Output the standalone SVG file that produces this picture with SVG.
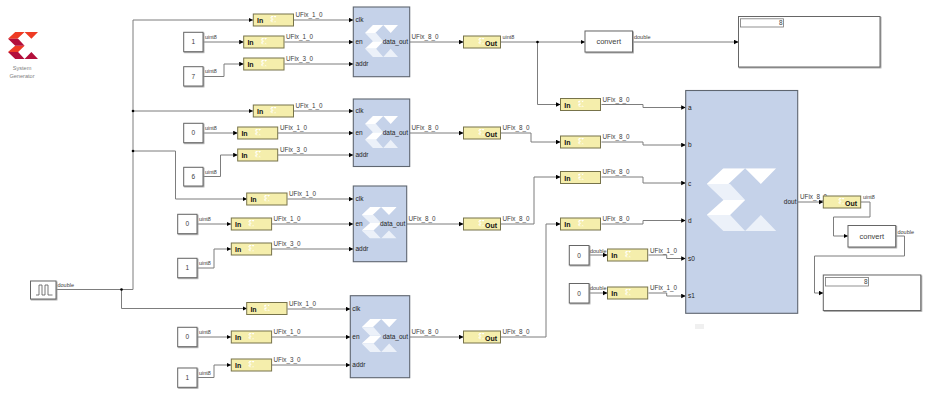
<svg xmlns="http://www.w3.org/2000/svg" width="940" height="413" viewBox="0 0 940 413">
<style>
text{font-family:"Liberation Sans",Arial,sans-serif;fill:#3c3c3c}
.l{font-size:6.3px}
.s{font-size:5.5px}
.p{font-size:6.5px;fill:#222}
.e{text-anchor:end}
.m{text-anchor:middle}
.c{font-size:6.5px;text-anchor:middle}
.t{font-size:7.5px;text-anchor:middle}
.b{font-size:7px;font-weight:bold;fill:#111}
.g{font-size:5.6px;text-anchor:middle;fill:#808080}
.sys{fill:#c5d2e9;stroke:#5f6670;stroke-width:1.1}
.y{fill:#f5eeac;stroke:#77734a;stroke-width:1}
.w{fill:#fff;stroke:#666;stroke-width:1;filter:url(#sh)}
.d{fill:#fff;stroke:#777;stroke-width:.8}
.wire{fill:none;stroke:#7d7d7d;stroke-width:1;marker-end:url(#arr)}
.plain{fill:none;stroke:#7d7d7d;stroke-width:1}
</style>
<defs>
<filter id="sh" x="-20%" y="-20%" width="140%" height="140%"><feDropShadow dx=".8" dy=".8" stdDeviation=".5" flood-color="#999"/></filter>
<marker id="arr" markerUnits="userSpaceOnUse" markerWidth="5" markerHeight="5" refX="4.5" refY="2.5" orient="auto"><path d="M0,.2L4.5,2.5L0,4.8Z" fill="#000"/></marker>
<symbol id="x" viewBox="0 0 208 188" preserveAspectRatio="none">
<path d="M50,0H115L65,47H0ZM50,95H115L70,140H0ZM115,0H208L162,47Z" fill="#fff"/>
<path d="M0,47H70L115,95H50ZM0,140H70L115,188H50ZM115,188L162,140L208,188Z" fill="#ecf1f9"/>
</symbol>
<symbol id="xs" viewBox="0 0 208 188" preserveAspectRatio="none">
<path d="M50,0H115L65,47H0ZM50,95H115L70,140H0ZM115,0H208L162,47Z" fill="#fff"/>
<path d="M0,47H70L115,95H50ZM0,140H70L115,188H50ZM115,188L162,140L208,188Z" fill="#fbf8dc"/>
</symbol>
<symbol id="xr" viewBox="0 0 208 188" preserveAspectRatio="none">
<path d="M50,0H115L65,47H0ZM50,95H115L70,140H0ZM115,0H208L162,47Z" fill="#ee3b24"/>
<path d="M0,47H70L115,95H50ZM0,140H70L115,188H50ZM115,188L162,140L208,188Z" fill="#b30f3b"/>
</symbol>
</defs>
<rect width="940" height="413" fill="#fff"/>

<g id="connectors">
<path class="plain" d="M56,289.5H133V20"/>
<path class="wire" d="M133,20H253"/>
<path class="wire" d="M133,111H253"/>
<path class="wire" d="M133,151H175.500V199H247"/>
<path class="wire" d="M121.500,289.500V308.500H247"/>
<path class="wire" d="M203,42H243.700"/>
<path class="wire" d="M203,76.500H224V64H243.700"/>
<path class="wire" d="M203,133H237.700"/>
<path class="wire" d="M203,176.500H220.500V155H237.700"/>
<path class="wire" d="M197,224H231"/>
<path class="wire" d="M197,268H214V249H231"/>
<path class="wire" d="M197,337H231"/>
<path class="wire" d="M197,377.500H214V365H231"/>
<path class="wire" d="M294,20H353.300"/>
<path class="wire" d="M284.500,42H353.300"/>
<path class="wire" d="M284.500,64H353.300"/>
<path class="wire" d="M294,111H353.300"/>
<path class="wire" d="M278,133H353.300"/>
<path class="wire" d="M278,155H353.300"/>
<path class="wire" d="M287.500,199H353.300"/>
<path class="wire" d="M272,224H353.300"/>
<path class="wire" d="M272,249H353.300"/>
<path class="wire" d="M287.500,309H350.300"/>
<path class="wire" d="M272,337H350.300"/>
<path class="wire" d="M272,365H350.300"/>
<path class="wire" d="M410,42H463.500"/>
<path class="wire" d="M410,133H463.500"/>
<path class="wire" d="M407,224H463.500"/>
<path class="wire" d="M410,337H463.500"/>
<path class="wire" d="M501,42H585"/>
<path class="wire" d="M537.500,42V104.500H560.500"/>
<path class="wire" d="M632.500,42H738.500"/>
<path class="wire" d="M500.500,133H531V142H560.500"/>
<path class="wire" d="M500.500,224H534V177H560.500"/>
<path class="wire" d="M500.500,337H546V224H560.500"/>
<path class="wire" d="M601.500,104.500H643V107.500H685.700"/>
<path class="wire" d="M601.500,142H643V145H685.700"/>
<path class="wire" d="M601.500,177H643V183H685.700"/>
<path class="wire" d="M601.500,224H643V220.500H685.700"/>
<path class="wire" d="M589,255H607.500"/>
<path class="wire" d="M589,293H607.500"/>
<path class="wire" d="M648.500,255H666.700V258.500H685.700"/>
<path class="wire" d="M648.500,293H666.700V296H685.700"/>
<path class="wire" d="M798,202H823.300"/>
<path class="wire" d="M861,202H870V217H833.500V236H848"/>
<path class="wire" d="M896,236H904.500V256H814.500V293H823.300"/>
<circle cx="133" cy="111" r="1.300" fill="#000"/>
<circle cx="133" cy="151" r="1.300" fill="#000"/>
<circle cx="121.500" cy="289.500" r="1.300" fill="#000"/>
<circle cx="537.500" cy="42" r="1.300" fill="#000"/>
</g>

<g id="logo">
<use href="#xr" x="8" y="32" width="30" height="27"/>
<text class="g" x="22" y="70">System</text>
<text class="g" x="22" y="77.500">Generator</text>
</g>

<g id="pulse"><rect class="w" x="30.500" y="281" width="25.500" height="18"/><path d="M36,295H39V285H42V295H45V285H48V295H52.500" fill="none" stroke="#555" stroke-width=".8"/><text class="s" x="57.500" y="287">double</text></g>

<g id="c1"><rect class="w" x="183.700" y="32.300" width="19.300" height="19.400"/><text class="c" x="193.400" y="44.300">1</text><text class="s" x="205" y="38.800">uint8</text></g>
<g id="c2"><rect class="w" x="183.700" y="66.700" width="19.300" height="19.300"/><text class="c" x="193.400" y="78.700">7</text><text class="s" x="205" y="73">uint8</text></g>
<g id="c3"><rect class="w" x="183.700" y="123.300" width="19.300" height="19.400"/><text class="c" x="193.400" y="135.300">0</text><text class="s" x="205" y="130">uint8</text></g>
<g id="c4"><rect class="w" x="183.700" y="167.300" width="19.300" height="18.700"/><text class="c" x="193.400" y="179">6</text><text class="s" x="205" y="174">uint8</text></g>
<g id="c5"><rect class="w" x="177.700" y="214.300" width="19.300" height="19.400"/><text class="c" x="187.400" y="226.300">0</text><text class="s" x="199" y="221">uint8</text></g>
<g id="c6"><rect class="w" x="177.700" y="258.300" width="19.300" height="19.400"/><text class="c" x="187.400" y="270.300">1</text><text class="s" x="199" y="265">uint8</text></g>
<g id="c7"><rect class="w" x="177.700" y="327.300" width="19.300" height="19.400"/><text class="c" x="187.400" y="339.300">0</text><text class="s" x="199" y="334">uint8</text></g>
<g id="c8"><rect class="w" x="177.700" y="368" width="19.300" height="19.300"/><text class="c" x="187.400" y="380">1</text><text class="s" x="199" y="375">uint8</text></g>
<g id="c9"><rect class="w" x="569.300" y="245.500" width="19.700" height="19.500"/><text class="c" x="579" y="257.500">0</text><text class="s" x="590" y="252.500">double</text></g>
<g id="c10"><rect class="w" x="569.300" y="283.500" width="19.700" height="19.500"/><text class="c" x="579" y="295.500">0</text><text class="s" x="590" y="290">double</text></g>

<g id="in1"><rect class="y" x="253.300" y="14" width="40.200" height="12"/><use href="#xs" x="270" y="16" width="6.500" height="6.500"/><text class="b" x="257" y="23">In</text><text class="l" x="295.500" y="17.300">UFix_1_0</text></g>
<g id="in2"><rect class="y" x="243.700" y="36" width="40.300" height="12"/><use href="#xs" x="260.500" y="38" width="6.500" height="6.500"/><text class="b" x="247.400" y="45">In</text><text class="l" x="286" y="39">UFix_1_0</text></g>
<g id="in3"><rect class="y" x="243.700" y="58" width="40.300" height="12"/><use href="#xs" x="260.500" y="60" width="6.500" height="6.500"/><text class="b" x="247.400" y="67">In</text><text class="l" x="286" y="61">UFix_3_0</text></g>
<g id="in4"><rect class="y" x="253.300" y="105" width="40.200" height="12"/><use href="#xs" x="270" y="107" width="6.500" height="6.500"/><text class="b" x="257" y="114">In</text><text class="l" x="295.500" y="108">UFix_1_0</text></g>
<g id="in5"><rect class="y" x="237.700" y="127" width="40" height="12"/><use href="#xs" x="254.500" y="129" width="6.500" height="6.500"/><text class="b" x="241.400" y="136">In</text><text class="l" x="280" y="130">UFix_1_0</text></g>
<g id="in6"><rect class="y" x="237.700" y="149" width="40" height="12"/><use href="#xs" x="254.500" y="151" width="6.500" height="6.500"/><text class="b" x="241.400" y="158">In</text><text class="l" x="280" y="152">UFix_3_0</text></g>
<g id="in7"><rect class="y" x="246.700" y="193" width="40.300" height="12"/><use href="#xs" x="263.500" y="195" width="6.500" height="6.500"/><text class="b" x="250.400" y="202">In</text><text class="l" x="289" y="196">UFix_1_0</text></g>
<g id="in8"><rect class="y" x="231.300" y="218" width="40.300" height="12"/><use href="#xs" x="248" y="220" width="6.500" height="6.500"/><text class="b" x="235" y="227">In</text><text class="l" x="273.500" y="221">UFix_1_0</text></g>
<g id="in9"><rect class="y" x="231.300" y="243" width="40.300" height="12"/><use href="#xs" x="248" y="245" width="6.500" height="6.500"/><text class="b" x="235" y="252">In</text><text class="l" x="273.500" y="246">UFix_3_0</text></g>
<g id="in10"><rect class="y" x="246.700" y="302.500" width="40.300" height="12"/><use href="#xs" x="263.500" y="304.500" width="6.500" height="6.500"/><text class="b" x="250.400" y="311.500">In</text><text class="l" x="289" y="306">UFix_1_0</text></g>
<g id="in11"><rect class="y" x="231.300" y="331" width="40.300" height="12"/><use href="#xs" x="248" y="333" width="6.500" height="6.500"/><text class="b" x="235" y="340">In</text><text class="l" x="273.500" y="334">UFix_1_0</text></g>
<g id="in12"><rect class="y" x="231.300" y="359" width="40.300" height="12"/><use href="#xs" x="248" y="361" width="6.500" height="6.500"/><text class="b" x="235" y="368">In</text><text class="l" x="273.500" y="362">UFix_3_0</text></g>

<g id="sys1"><rect class="sys" x="353.300" y="7" width="56.400" height="69.700"/><use href="#x" x="365" y="25" width="33" height="32"/><text class="p" x="355.500" y="22.300">clk</text><text class="p" x="355.500" y="44.300">en</text><text class="p" x="355.500" y="66.300">addr</text><text class="p e" x="408" y="44.300">data_out</text><text class="l" x="411.500" y="38.800">UFix_8_0</text></g>
<g id="sys2"><rect class="sys" x="353.300" y="99" width="56.400" height="67.500"/><use href="#x" x="365" y="116" width="33" height="32"/><text class="p" x="355.500" y="113.300">clk</text><text class="p" x="355.500" y="135.300">en</text><text class="p" x="355.500" y="157.300">addr</text><text class="p e" x="408" y="135.300">data_out</text><text class="l" x="411.500" y="130">UFix_8_0</text></g>
<g id="sys3"><rect class="sys" x="353.300" y="186" width="53.400" height="75.700"/><use href="#x" x="361.700" y="207" width="35" height="31.500"/><text class="p" x="355.500" y="201.300">clk</text><text class="p" x="355.500" y="226.300">en</text><text class="p" x="355.500" y="251.300">addr</text><text class="p e" x="405.300" y="226.300">data_out</text><text class="l" x="408.500" y="221">UFix_8_0</text></g>
<g id="sys4"><rect class="sys" x="350.300" y="295.700" width="59.400" height="82"/><use href="#x" x="361.700" y="319" width="35.300" height="33"/><text class="p" x="352.300" y="311.300">clk</text><text class="p" x="352.300" y="339.300">en</text><text class="p" x="352.300" y="367.300">addr</text><text class="p e" x="408" y="339.300">data_out</text><text class="l" x="411.500" y="334">UFix_8_0</text></g>

<g id="out1"><rect class="y" x="463.500" y="36" width="37" height="12"/><use href="#xs" x="478" y="38" width="6.500" height="6.500"/><text class="b" x="485" y="45.500">Out</text><text class="s" x="502.500" y="38.800">uint8</text></g>
<g id="out2"><rect class="y" x="463.500" y="127" width="37" height="12"/><use href="#xs" x="478" y="129" width="6.500" height="6.500"/><text class="b" x="485" y="136.500">Out</text><text class="l" x="502.500" y="130">UFix_8_0</text></g>
<g id="out3"><rect class="y" x="463.500" y="218" width="37" height="12"/><use href="#xs" x="478" y="220" width="6.500" height="6.500"/><text class="b" x="485" y="227.500">Out</text><text class="l" x="502.500" y="221">UFix_8_0</text></g>
<g id="out4"><rect class="y" x="463.500" y="331" width="37" height="12"/><use href="#xs" x="478" y="333" width="6.500" height="6.500"/><text class="b" x="485" y="340.500">Out</text><text class="l" x="502.500" y="334">UFix_8_0</text></g>

<g id="conv1"><rect class="w" x="585" y="31" width="47.500" height="21"/><text class="t" x="608.700" y="44.300">convert</text><text class="s" x="634" y="38.800">double</text></g>
<g id="scope1"><rect class="w" x="738.500" y="16.500" width="141.500" height="50.500"/><rect class="d" x="740.500" y="18.800" width="43" height="8.200"/><text class="c e" x="782.500" y="25.300" style="text-anchor:end">8</text></g>

<g id="ina"><rect class="y" x="560.500" y="98.500" width="40" height="12"/><use href="#xs" x="577.500" y="100.500" width="6.500" height="6.500"/><text class="b" x="564.200" y="107.500">In</text><text class="l" x="602.500" y="101.500">UFix_8_0</text></g>
<g id="inb"><rect class="y" x="560.500" y="136" width="40" height="12"/><use href="#xs" x="577.500" y="138" width="6.500" height="6.500"/><text class="b" x="564.200" y="145">In</text><text class="l" x="602.500" y="139">UFix_8_0</text></g>
<g id="inc"><rect class="y" x="560.500" y="171.500" width="40" height="12"/><use href="#xs" x="577.500" y="173.500" width="6.500" height="6.500"/><text class="b" x="564.200" y="180.500">In</text><text class="l" x="602.500" y="174">UFix_8_0</text></g>
<g id="ind"><rect class="y" x="560.500" y="218" width="40" height="12"/><use href="#xs" x="577.500" y="220" width="6.500" height="6.500"/><text class="b" x="564.200" y="227">In</text><text class="l" x="602.500" y="221">UFix_8_0</text></g>
<g id="ins0"><rect class="y" x="607.500" y="249" width="40.200" height="12"/><use href="#xs" x="624.500" y="251" width="6.500" height="6.500"/><text class="b" x="611.200" y="258">In</text><text class="l" x="650" y="252.500">UFix_1_0</text></g>
<g id="ins1"><rect class="y" x="607.500" y="287" width="40.200" height="12"/><use href="#xs" x="624.500" y="289" width="6.500" height="6.500"/><text class="b" x="611.200" y="296">In</text><text class="l" x="650" y="290">UFix_1_0</text></g>

<g id="mux"><rect class="sys" x="685.700" y="90.500" width="112" height="222.800"/><use href="#x" x="706.700" y="168.300" width="69.500" height="62.700"/><text class="p" x="688" y="110">a</text><text class="p" x="688" y="147.300">b</text><text class="p" x="688" y="185.500">c</text><text class="p" x="688" y="223">d</text><text class="p" x="688" y="260.800">s0</text><text class="p" x="688" y="298.300">s1</text><text class="p e" x="796.500" y="204.300">dout</text><text class="l" x="800" y="199">UFix_8_0</text></g>
<rect x="695" y="324" width="9" height="5" fill="#f0f0f0"/>

<g id="out5"><rect class="y" x="823.300" y="196" width="37.400" height="12"/><use href="#xs" x="838" y="198" width="6.500" height="6.500"/><text class="b" x="845" y="205.500">Out</text><text class="s" x="863" y="199">uint8</text></g>
<g id="conv2"><rect class="w" x="848" y="225.500" width="47.700" height="21.500"/><text class="t" x="871.800" y="239">convert</text><text class="s" x="897.500" y="233.500">double</text></g>
<g id="scope2"><rect class="w" x="823.300" y="275" width="97.500" height="35.500"/><rect class="d" x="825.500" y="277.500" width="43" height="8.500"/><text class="c" x="867.500" y="284" style="text-anchor:end">8</text></g>
</svg>
